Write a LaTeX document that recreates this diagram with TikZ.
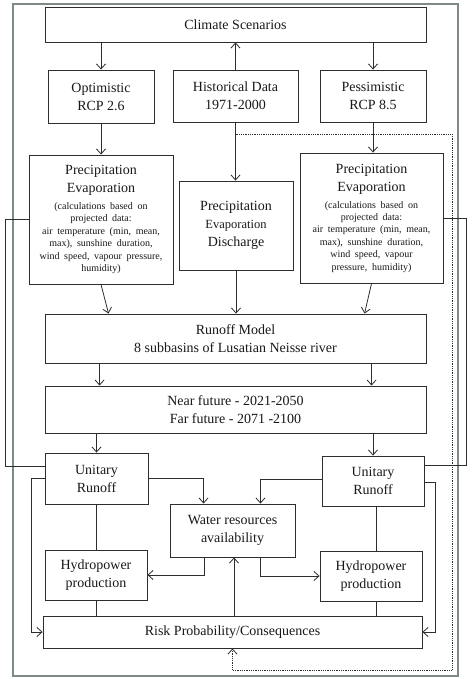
\documentclass[tikz,border=0pt]{standalone}
\usepackage{fontspec}
\setmainfont{Liberation Serif}
\usetikzlibrary{arrows.meta,calc}
\definecolor{boxc}{RGB}{45,45,45}
\definecolor{framec}{RGB}{125,138,136}
\definecolor{txtc}{RGB}{25,25,25}
\newcommand\smtxt{\fontsize{10}{12.4}\selectfont}
\begin{document}
\begin{tikzpicture}[x=1pt,y=-1pt,
  box/.style={draw=boxc, line width=0.9pt, fill=white, align=center, inner sep=0pt, text=txtc, font=\fontsize{14}{18}\selectfont},
  ln/.style={draw=boxc, line width=0.8pt},
  arr/.style={ln, -{Straight Barb[length=5pt,width=9pt]}},
  dotl/.style={draw=boxc, line width=0.8pt, densely dotted}]
\useasboundingbox (0,0) rectangle (474,679);
\draw[draw=framec, line width=1.3pt] (13,4) rectangle (458,676);

\node[box, minimum width=381pt, minimum height=35pt] (clim) at (235.5,24.5) {Climate Scenarios};
\node[box, minimum width=106pt, minimum height=53pt] (opt) at (101,96.5) {Optimistic\\RCP 2.6};
\node[box, minimum width=125pt, minimum height=52pt] (hist) at (235.5,96) {Historical Data\\1971-2000};
\node[box, minimum width=106pt, minimum height=52pt] (pess) at (373,96) {Pessimistic\\RCP 8.5};

\node[box, text width=140pt, inner xsep=2pt, minimum height=129pt] (precL) at (101,219.5)
 {Precipitation\\Evaporation\par\vspace{4.5pt}
  {\smtxt (calculations based on\\projected data:\\air temperature (min, mean,\\max), sunshine duration,\\wind speed, vapour pressure,\\humidity)\par}};
\node[box, minimum width=114pt, minimum height=89pt] (precM) at (236,225.5)
 {Precipitation\\{\fontsize{12.5}{17}\selectfont Evaporation}\\Discharge};
\node[box, text width=139pt, inner xsep=2pt, minimum height=130pt] (precR) at (371.5,218)
 {Precipitation\\Evaporation\par\vspace{4.5pt}
  {\smtxt (calculations based on\\projected data:\\air temperature (min, mean,\\max), sunshine duration,\\wind speed, vapour\\pressure, humidity)\par}};

\node[box, minimum width=381pt, minimum height=49pt] (runoff) at (235.5,338.5) {Runoff Model\\8 subbasins of Lusatian Neisse river};
\node[box, minimum width=381pt, minimum height=47pt] (near) at (235.5,409.5) {Near future - 2021-2050\\Far future - 2071 -2100};
\node[box, minimum width=103pt, minimum height=51pt] (unitL) at (96.5,478.5) {Unitary\\Runoff};
\node[box, minimum width=102pt, minimum height=50pt] (unitR) at (373,481) {Unitary\\Runoff};
\node[box, minimum width=125pt, minimum height=53pt] (water) at (232.5,530.5) {Water resources\\availability};
\node[box, minimum width=102pt, minimum height=50pt] (hydroL) at (96,575) {Hydropower\\production};
\node[box, minimum width=102pt, minimum height=50pt] (hydroR) at (371,576) {Hydropower\\production};
\node[box, minimum width=379pt, minimum height=32pt] (risk) at (232.5,632) {Risk Probability/Consequences};

% top level
\draw[arr] (opt.north |- clim.south) -- (opt.north);
\draw[arr] (hist.north) -- (hist.north |- clim.south);
\draw[arr] (pess.north |- clim.south) -- (pess.north);
\draw[arr] (opt.south) -- (opt.south |- precL.north);
\draw[arr] (pess.south) -- (pess.south |- precR.north);
\draw[arr] (hist.south) -- (hist.south |- precM.north);
% dotted feedback
\coordinate (dot0) at ($(hist.south)+(0,12)$);
\coordinate (dotR) at (452,670);
\draw[dotl, -{Straight Barb[length=5pt,width=9pt]}] (dot0) -| (dotR) -| (risk.south);
% precipitation -> runoff
\coordinate (rinL) at ($(runoff.north west)+(64,0)$);
\coordinate (rinR) at ($(runoff.north west)+(320,0)$);
\draw[arr] (precL.south) -- (rinL);
\draw[arr] (precM.south) -- (precM.south |- runoff.north);
\draw[arr] (precR.south) -- (rinR);
% runoff -> near
\draw[arr] ($(runoff.south west)+(55,0)$) -- ($(near.north west)+(55,0)$);
\draw[arr] ($(runoff.south west)+(327,0)$) -- ($(near.north west)+(327,0)$);
% near -> unitary
\draw[arr] (unitL.north |- near.south) -- (unitL.north);
\draw[arr] (unitR.north |- near.south) -- (unitR.north);
% side loops
\coordinate (sideL) at (5,466);
\coordinate (sideR) at (466,465);
\draw[ln] (precL.west) -| (sideL) -- (sideL -| unitL.west);
\draw[ln] (precR.east) -| (sideR) -- (sideR -| unitR.east);
% unitary -> water
\draw[arr] (unitL.east) -| ($(water.north west)+(34,0)$);
\draw[arr] ([yshift=2pt]unitR.west) -| ($(water.north east)+(-35,0)$);
% unitary -> hydro -> risk
\draw[ln] (unitL.south) -- (unitL.south |- hydroL.north);
\draw[ln] (hydroL.south) -- (hydroL.south |- risk.north);
\draw[ln] ([xshift=3pt]unitR.south) -- ([xshift=3pt]unitR.south |- hydroR.north);
\draw[ln] ([xshift=5pt]hydroR.south) -- ([xshift=5pt]hydroR.south |- risk.north);
% water -> hydro
\draw[arr] ($(water.south west)+(35,0)$) |- (hydroL.east);
\draw[arr] ($(water.south east)+(-35,0)$) |- (hydroR.west);
% risk -> water
\draw[arr] ([xshift=1.5pt]risk.north) -- ([xshift=1.5pt]water.south);
% unitary -> risk
\draw[arr] (unitL.west) -- ++(-13,0) |- (risk.west);
\draw[arr] ([yshift=-1pt]unitR.east) -- ++(11,0) |- (risk.east);
\end{tikzpicture}
\end{document}
